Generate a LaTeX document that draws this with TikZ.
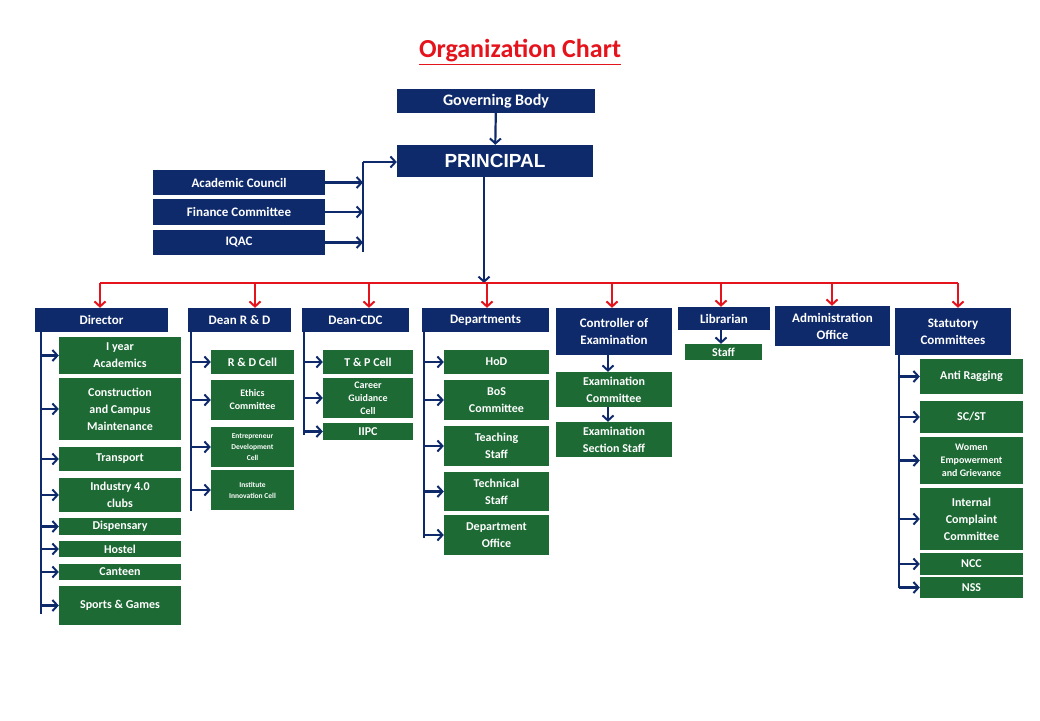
\documentclass[tikz,border=0pt]{standalone}
\usepackage{fontspec}
\setmainfont{Carlito}
\usetikzlibrary{arrows.meta}
\definecolor{nav}{HTML}{0E2A6B}
\definecolor{grn}{HTML}{1D6A34}
\definecolor{rd}{HTML}{E5131B}
\newcommand{\bx}[7]{\node[#6, minimum width={#4-#2}, minimum height={#5-#3}] (#1) at ({(#2+#4)/2},{(#3+#5)/2}) {#7};}
\tikzset{
 hb/.style={fill=nav, text=white, inner sep=0pt, align=center, font=\fontsize{13}{17}\selectfont\bfseries},
 gb/.style={fill=grn, text=white, inner sep=0pt, align=center, font=\fontsize{12}{17}\selectfont\bfseries},
 sm/.style={font=\fontsize{10}{13}\selectfont\bfseries},
 xs/.style={font=\fontsize{7.5}{11}\selectfont\bfseries},
 barr/.style={draw=nav, line width=2.2pt, -{Straight Barb[length=5pt,width=11pt,line width=2pt]}},
 bl/.style={draw=nav, line width=2.2pt},
 rl/.style={draw=rd, line width=2.2pt},
 rarr/.style={draw=rd, line width=2.2pt, -{Straight Barb[length=5pt,width=11pt,line width=2pt]}}
}
\begin{document}
\begin{tikzpicture}[x=1pt,y=-1pt]
\useasboundingbox (0,0) rectangle (1040,720);
\node[text=rd, font=\fontsize{26}{30}\selectfont\bfseries] (title) at (520,52) {\underline{Organization Chart}};
\bx{gov}{397}{89}{595}{113}{hb,font=\fontsize{16}{18}\selectfont\bfseries}{Governing Body}
\bx{pr}{397}{145}{593}{177}{hb,font={\fontsize{19}{21}\fontspec{Liberation Sans}\bfseries}}{PRINCIPAL}
\bx{ac}{153}{170}{325}{195}{hb}{Academic Council}
\bx{fc}{153}{199}{325}{225}{hb}{Finance Committee}
\bx{iq}{153}{230}{325}{255}{hb}{IQAC}
\draw[barr] (gov) -- (pr);
\draw[bl] (363,162) -- (363,252);
\draw[barr] (363,162) -- (pr.west |- 0,162);
\foreach \n in {ac,fc,iq} \draw[barr] (\n.east) -- (363,0 |- \n.east);
\coordinate (hub) at (484,283);
\draw[barr] (pr.south -| 484,0) -- (hub);
\draw[rl] (100,283) -- (958,283);
% headers
\bx{dir}{35}{308}{168}{332}{hb}{Director}
\bx{drd}{188}{308}{291}{332}{hb}{Dean R \& D}
\bx{dcdc}{302}{308}{409}{332}{hb}{Dean-CDC}
\bx{dep}{422}{308}{549}{332}{hb}{Departments}
\bx{coe}{556}{308}{672}{355}{hb}{Controller of\\Examination}
\bx{lib}{678}{307}{770}{330}{hb}{Librarian}
\bx{adm}{775}{306}{890}{346}{hb}{Administration\\Office}
\bx{stat}{895}{308}{1011}{355}{hb}{Statutory\\Committees}
\foreach \n/\x in {dir/100,drd/255,dcdc/369,dep/487,coe/612,lib/721,adm/832,stat/958}
  \draw[rarr] (\x,283) -- (\x,0 |- \n.north);
% Director
\bx{d1}{59}{337}{181}{374}{gb}{I year\\Academics}
\bx{d2}{59}{378}{181}{440}{gb}{Construction\\and Campus\\Maintenance}
\bx{d3}{59}{447}{181}{471}{gb}{Transport}
\bx{d4}{59}{478}{181}{512}{gb}{Industry 4.0\\clubs}
\bx{d5}{59}{518}{181}{535}{gb}{Dispensary}
\bx{d6}{59}{541}{181}{557}{gb}{Hostel}
\bx{d7}{59}{564}{181}{580}{gb}{Canteen}
\bx{d8}{59}{586}{181}{625}{gb}{Sports \& Games}
\draw[bl] (41,332) -- (41,614);
\foreach \n in {d1,d2,d3,d4,d5,d6,d7,d8} \draw[barr] (41,0 |- \n.west) -- (\n.west);
% Dean R&D
\bx{r1}{211}{350}{294}{374}{gb}{R \& D Cell}
\bx{r2}{211}{380}{294}{420}{gb,sm}{Ethics\\Committee}
\bx{r3}{211}{427}{294}{467}{gb,xs}{Entrepreneur\\Development\\Cell}
\bx{r4}{211}{470}{294}{510}{gb,xs}{Institute\\Innovation Cell}
\draw[bl] (191,332) -- (191,511);
\foreach \n in {r1,r2,r3,r4} \draw[barr] (191,0 |- \n.west) -- (\n.west);
% Dean CDC
\bx{c1}{323}{350}{413}{374}{gb}{T \& P Cell}
\bx{c2}{323}{378}{413}{418}{gb,sm}{Career\\Guidance\\Cell}
\bx{c3}{323}{423}{413}{440}{gb}{IIPC}
\draw[bl] (304,332) -- (304,435);
\foreach \n in {c1,c2,c3} \draw[barr] (304,0 |- \n.west) -- (\n.west);
% Departments
\bx{p1}{444}{350}{549}{374}{gb}{HoD}
\bx{p2}{444}{380}{549}{420}{gb}{BoS\\Committee}
\bx{p3}{444}{426}{549}{466}{gb}{Teaching\\Staff}
\bx{p4}{444}{472}{549}{511}{gb}{Technical\\Staff}
\bx{p5}{444}{515}{549}{555}{gb}{Department\\Office}
\draw[bl] (424,332) -- (424,538);
\foreach \n in {p1,p2,p3,p4,p5} \draw[barr] (424,0 |- \n.west) -- (\n.west);
% Controller
\bx{e1}{556}{372}{672}{407}{gb}{Examination\\Committee}
\bx{e2}{556}{422}{672}{457}{gb}{Examination\\Section Staff}
\draw[barr] (coe.south -| 608,0) -- (608,0 |- e1.north);
\draw[barr] (e1.south -| 608,0) -- (608,0 |- e2.north);
% Librarian
\bx{l1}{685}{344}{762}{360}{gb}{Staff}
\draw[barr] (lib.south -| 721,0) -- (721,0 |- l1.north);
% Statutory
\bx{s1}{920}{359}{1023}{394}{gb}{Anti Ragging}
\bx{s2}{920}{401}{1023}{433}{gb}{SC/ST}
\bx{s3}{920}{437}{1023}{484}{gb,sm}{Women\\Empowerment\\and Grievance}
\bx{s4}{920}{488}{1023}{550}{gb}{Internal\\Complaint\\Committee}
\bx{s5}{920}{553}{1023}{575}{gb}{NCC}
\bx{s6}{920}{577}{1023}{598}{gb}{NSS}
\draw[bl] (899,355) -- (899,588);
\foreach \n in {s1,s2,s3,s4,s5,s6} \draw[barr] (899,0 |- \n.west) -- (\n.west);
\end{tikzpicture}
\end{document}
